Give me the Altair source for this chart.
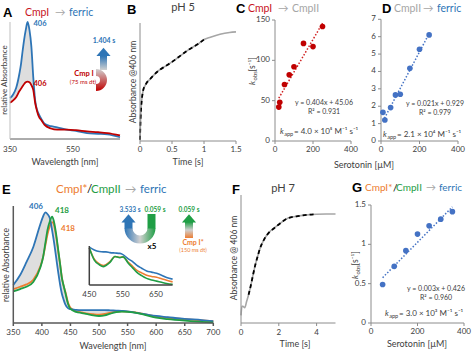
import altair as alt
import pandas as pd

W, H = 474, 351
FONT = "Lato"
TXT = "#404040"
RED = "#c00000"
TRED = "#c8141e"
BLUE = "#2e75b6"
GRAY = "#a6a6a6"
GREEN = "#1f9e45"
ORANGE = "#ed7d31"
PBLUE = "#4472c4"
AX = "#8c8c8c"

# ---------------- data ----------------
# A: spectra CmpI -> ferric (pH 5)
a_wl = [350, 360, 370, 380, 385, 390, 395, 400, 406, 412, 418, 424, 430, 436, 442,
        450, 460, 480, 500, 530, 560, 595, 630, 660, 700]
a_ferric = [0.35, 0.38, 0.44, 0.56, 0.64, 0.75, 0.85, 0.93, 1.00, 0.93, 0.79, 0.53, 0.33, 0.25, 0.21,
            0.17, 0.13, 0.11, 0.10, 0.08, 0.07, 0.05, 0.045, 0.04, 0.015]
a_cmpi = [0.31, 0.33, 0.36, 0.41, 0.43, 0.45, 0.47, 0.485, 0.49, 0.485, 0.46, 0.42, 0.31, 0.24, 0.19,
          0.16, 0.12, 0.09, 0.08, 0.08, 0.075, 0.065, 0.058, 0.05, 0.03]
a_xticks = [350, 550]

# B: kinetics pH 5
b_t = [0, 0.005, 0.01, 0.02, 0.03, 0.05, 0.08, 0.1, 0.15, 0.2, 0.3, 0.4, 0.5, 0.6, 0.75,
       0.9, 1.0, 1.1, 1.25, 1.4, 1.5]
b_abs = [0.01, 0.12, 0.2, 0.3, 0.36, 0.43, 0.47, 0.49, 0.52, 0.55, 0.60, 0.635, 0.67, 0.71, 0.77,
         0.82, 0.86, 0.88, 0.905, 0.92, 0.925]
b_xticks = [0, 0.5, 1, 1.5]

# C: CmpI -> CmpII
c_ser = [20, 25, 50, 75, 100, 150, 200, 250]
c_kobs = [42, 48, 70, 82, 92, 121, 117, 142]
c_slope, c_icpt = 0.404, 45.06
c_yticks = [0, 50, 100, 150]

# D: CmpII -> ferric
d_ser = [10, 20, 50, 75, 100, 150, 200, 250]
d_kobs = [1.65, 1.21, 1.92, 2.65, 2.69, 4.18, 5.28, 6.10]
d_slope, d_icpt = 0.021, 0.929
d_yticks = [0, 1, 2, 3, 4, 5, 6, 7]

ser_xticks = [0, 200, 400]

# E: spectra CmpI*/CmpII -> ferric (pH 7)
e_wl = [350, 362, 373, 385, 397, 402, 406, 410, 414, 418, 421, 425, 429, 432, 435, 438, 441, 446,
        450, 460, 470, 480, 490, 500, 510, 520, 530, 540, 550, 560, 580, 600, 620, 650, 680, 700]
e_ferric = [0.325, 0.41, 0.52, 0.65, 0.84, 0.91, 0.945, 0.93, 0.895, 0.79, 0.70, 0.56, 0.42, 0.325,
            0.25, 0.20, 0.16, 0.125, 0.118, 0.112, 0.11, 0.11, 0.11, 0.11, 0.11, 0.108, 0.106, 0.104,
            0.10, 0.09, 0.075, 0.06, 0.05, 0.035, 0.025, 0.015]
e_cmpii = [0.27, 0.29, 0.31, 0.35, 0.47, 0.56, 0.68, 0.80, 0.87, 0.91, 0.87, 0.76, 0.61, 0.50, 0.385,
           0.32, 0.26, 0.16, 0.12, 0.095, 0.085, 0.075, 0.065, 0.06, 0.065, 0.08, 0.092, 0.097, 0.095,
           0.09, 0.07, 0.045, 0.033, 0.02, 0.01, 0.005]
e_cmpistar = [0.29, 0.31, 0.33, 0.37, 0.48, 0.56, 0.66, 0.76, 0.83, 0.863, 0.84, 0.74, 0.60, 0.50,
              0.39, 0.32, 0.27, 0.17, 0.13, 0.10, 0.09, 0.08, 0.075, 0.072, 0.077, 0.088, 0.098, 0.10,
              0.098, 0.093, 0.075, 0.055, 0.045, 0.033, 0.022, 0.015]
e_xticks = [350, 400, 450, 500, 550, 600, 650, 700]

# E inset (x5)
i_wl = [450, 465, 480, 492, 500, 512, 527, 542, 551, 567, 580, 592, 607, 622, 637, 652, 667, 682, 700]
i_ferric = [0.97, 0.90, 0.86, 0.85, 0.85, 0.83, 0.82, 0.81, 0.78, 0.67, 0.60, 0.51, 0.43, 0.36, 0.33,
            0.30, 0.25, 0.19, 0.15]
i_cmpii = [0.95, 0.64, 0.52, 0.47, 0.50, 0.58, 0.73, 0.70, 0.72, 0.56, 0.44, 0.33, 0.24, 0.17, 0.13,
           0.10, 0.07, 0.04, 0.02]
i_cmpistar = [0.95, 0.66, 0.54, 0.50, 0.52, 0.60, 0.73, 0.71, 0.72, 0.58, 0.48, 0.38, 0.31, 0.25, 0.22,
              0.20, 0.16, 0.12, 0.08]
i_xticks = [450, 550, 650]

# F: kinetics pH 7
f_t = [0, 0.05, 0.1, 0.2, 0.3, 0.4, 0.5, 0.6, 0.75, 0.9, 1.0, 1.25, 1.5, 1.75, 2.0, 2.5, 3.0, 3.5,
       4.0, 4.5, 5.0]
f_abs = [0.06, 0.13, 0.13, 0.12, 0.17, 0.22, 0.28, 0.35, 0.45, 0.53, 0.58, 0.66, 0.71, 0.74, 0.77,
         0.82, 0.835, 0.845, 0.85, 0.852, 0.852]
f_xticks = [0, 2, 4]

# G: CmpI*/CmpII -> ferric
g_ser = [50, 100, 150, 200, 250, 300, 350]
g_kobs = [0.49, 0.72, 0.92, 1.13, 1.235, 1.32, 1.415]
g_slope, g_icpt = 0.003, 0.426
g_yticks = [0, 0.5, 1, 1.5]


# ---------------- helpers ----------------
ONE = pd.DataFrame({"k": [0]})


def scale(domain, r0, r1):
    return alt.Scale(domain=domain, range=[r0, r1], nice=False, zero=False)


def x_axis(values, scl, y0, r0, r1, color=AX, width=1.0, ticks=True, lab_dy=9):
    out = [alt.Chart(ONE).mark_rule(color=color, strokeWidth=width).encode(
        x=alt.value(r0), x2=alt.value(r1), y=alt.value(y0))]
    df = pd.DataFrame({"v": values, "lab": [f"{v:g}" for v in values]})
    if ticks:
        out.append(alt.Chart(df).mark_rule(color=color, strokeWidth=width).encode(
            x=alt.X("v:Q", scale=scl, axis=None), y=alt.value(y0), y2=alt.value(y0 + 3)))
    out.append(alt.Chart(df).mark_text(fontSize=8, color=TXT, font=FONT, baseline="middle").encode(
        x=alt.X("v:Q", scale=scl, axis=None), y=alt.value(y0 + lab_dy), text="lab:N"))
    return out


def y_axis(values, scl, x0, r0, r1, color=AX, width=1.0, ticks=True, labels=True):
    out = [alt.Chart(ONE).mark_rule(color=color, strokeWidth=width).encode(
        x=alt.value(x0), y=alt.value(r0), y2=alt.value(r1))]
    if values:
        df = pd.DataFrame({"v": values, "lab": [f"{v:g}" for v in values]})
        if ticks:
            out.append(alt.Chart(df).mark_rule(color=color, strokeWidth=width).encode(
                y=alt.Y("v:Q", scale=scl, axis=None), x=alt.value(x0 - 3), x2=alt.value(x0)))
        if labels:
            out.append(alt.Chart(df).mark_text(fontSize=8, color=TXT, font=FONT, baseline="middle",
                                               align="right").encode(
                y=alt.Y("v:Q", scale=scl, axis=None), x=alt.value(x0 - 5), text="lab:N"))
    return out


def T(text, x, y, color=TXT, size=8, bold=False, italic=False, align="center", angle=None,
      baseline="middle", font=FONT):
    kw = dict(text=text, color=color, fontSize=size, align=align, baseline=baseline, font=font)
    if bold:
        kw["fontWeight"] = "bold"
    if italic:
        kw["fontStyle"] = "italic"
    if angle is not None:
        kw["angle"] = angle
    return alt.Chart(ONE).mark_text(**kw).encode(x=alt.value(x), y=alt.value(y))


def grad(stops, x1=0, y1=0, x2=0, y2=1):
    return alt.Gradient(gradient="linear", x1=x1, y1=y1, x2=x2, y2=y2,
                        stops=[alt.GradientStop(offset=o, color=c) for o, c in stops])


def box(x0, x1, y0, y1, fill):
    return alt.Chart(ONE).mark_rect(fill=fill).encode(
        x=alt.value(x0), x2=alt.value(x1), y=alt.value(y0), y2=alt.value(y1))


def head(x, y, color, size=200):
    return alt.Chart(ONE).mark_point(shape="M-1,0.55L0,-0.6L1,0.55Z", filled=True, fill=color,
                                     size=size, opacity=1, strokeWidth=0).encode(
        x=alt.value(x), y=alt.value(y))


def arc(cx, cy, r, r2, t0, t1, fill):
    return alt.Chart(ONE).mark_arc(fill=fill).encode(
        x=alt.value(cx), y=alt.value(cy), theta=alt.value(t0), theta2=alt.value(t1),
        radius=alt.value(r), radius2=alt.value(r2))


def kobs_title(x, yc, size=8.5):
    y0 = yc + 15
    return [T("k", x, y0, size=size, italic=True, align="left", angle=270),
            T("obs", x + 2.5, y0 - 4.6, size=size * 0.7, align="left", angle=270),
            T(" [s⁻¹]", x, y0 - 13.6, size=size, align="left", angle=270)]


def kapp(x, y, rest, size=8):
    return [T("k", x, y, size=size, italic=True, align="left"),
            T("app", x + 4.2, y + 2, size=size * 0.7, align="left"),
            T(rest, x + 14, y, size=size, align="left")]


def title_parts(y, parts, size):
    return [T(s, x, y, color=c, size=size, align="left") for s, x, c in parts]


def letter(s, x, y):
    return T(s, x, y, color="#000000", size=13, bold=True, align="left", font="Liberation Sans")


def line(df, field, xf, xs_, ys_, color, width=1.8, **kw):
    return alt.Chart(df).mark_line(color=color, strokeWidth=width, interpolate="monotone", **kw).encode(
        x=alt.X(f"{xf}:Q", scale=xs_, axis=None), y=alt.Y(f"{field}:Q", scale=ys_, axis=None))


# ---------------- panel A ----------------
dfA = pd.DataFrame({"wl": a_wl, "ferric": a_ferric, "cmpi": a_cmpi})
xA, yA = scale([350, 700], 10, 120), scale([0, 1], 139, 22)
panelA = alt.layer(
    alt.Chart(dfA).mark_area(color="#dedede", interpolate="monotone").encode(
        x=alt.X("wl:Q", scale=xA, axis=None),
        y=alt.Y("cmpi:Q", scale=yA, axis=None), y2="ferric:Q"),
    line(dfA, "ferric", "wl", xA, yA, BLUE),
    line(dfA, "cmpi", "wl", xA, yA, RED),
    *x_axis(a_xticks, xA, 139, 10, 120, color="#595959", ticks=False, lab_dy=11),
    *y_axis([], yA, 10, 139, 22, color="#bfbfbf"),
)

# ---------------- panel B ----------------
dfB = pd.DataFrame({"t": b_t, "abs": b_abs})
xB, yB = scale([0, 1.5], 140, 236), scale([0, 1], 141, 23)
panelB = alt.layer(
    line(dfB, "abs", "t", xB, yB, GRAY, 1.6),
    alt.Chart(dfB).transform_filter("datum.t <= 1.0").mark_line(
        color="#000000", strokeWidth=1.8, strokeDash=[4, 3], interpolate="monotone").encode(
        x=alt.X("t:Q", scale=xB, axis=None), y=alt.Y("abs:Q", scale=yB, axis=None)),
    *x_axis(b_xticks, xB, 141, 140, 236),
    *y_axis([], yB, 140, 141, 23),
)


# ---------------- scatter panels ----------------
def scatter_panel(ser, kobs, slope, icpt, xr, ytop, ydom, yvals, ypix, color, lcolor):
    df = pd.DataFrame({"ser": ser, "kobs": kobs})
    fit_x = [ser[0], ser[-1]]
    dff = pd.DataFrame({"ser": fit_x, "kobs": [slope * v + icpt for v in fit_x]})
    xs_, ys_ = scale([0, 400], xr[0], xr[1]), scale(ydom, ypix, ytop)
    return alt.layer(
        *x_axis(ser_xticks, xs_, ypix, xr[0], xr[1]),
        *y_axis(yvals, ys_, xr[0], ypix, ytop),
        alt.Chart(dff).mark_line(color=lcolor, strokeWidth=1.5, strokeDash=[1.5, 1.8]).encode(
            x=alt.X("ser:Q", scale=xs_, axis=None), y=alt.Y("kobs:Q", scale=ys_, axis=None)),
        alt.Chart(df).mark_circle(color=color, size=32, opacity=1).encode(
            x=alt.X("ser:Q", scale=xs_, axis=None), y=alt.Y("kobs:Q", scale=ys_, axis=None)),
    )


panelC = scatter_panel(c_ser, c_kobs, c_slope, c_icpt, (275, 351), 20, [0, 150],
                       c_yticks, 141, RED, "#d02020")
panelD = scatter_panel(d_ser, d_kobs, d_slope, d_icpt, (381, 458), 19.3, [0, 7],
                       d_yticks, 141, PBLUE, PBLUE)
panelG = scatter_panel(g_ser, g_kobs, g_slope, g_icpt, (371, 464), 205, [0, 1.5],
                       g_yticks, 323, PBLUE, PBLUE)

# ---------------- panel E ----------------
dfE = pd.DataFrame({"wl": e_wl, "ferric": e_ferric, "cmpii": e_cmpii, "cmpistar": e_cmpistar})
xE, yE = scale([350, 700], 13.3, 213.3), scale([0, 1], 323, 206)
EAX = "#595959"
panelE = alt.layer(
    alt.Chart(dfE).mark_area(color="#dedede", interpolate="monotone").encode(
        x=alt.X("wl:Q", scale=xE, axis=None),
        y=alt.Y("cmpii:Q", scale=yE, axis=None), y2="ferric:Q"),
    line(dfE, "cmpistar", "wl", xE, yE, ORANGE),
    line(dfE, "ferric", "wl", xE, yE, BLUE),
    line(dfE, "cmpii", "wl", xE, yE, GREEN),
    *x_axis(e_xticks, xE, 323, 13.3, 213.3, color=EAX, width=1.5, lab_dy=10),
    *y_axis([], yE, 13.3, 323, 206, color=EAX, width=1.5),
)

dfI = pd.DataFrame({"wl": i_wl, "ferric": i_ferric, "cmpii": i_cmpii, "cmpistar": i_cmpistar})
xI, yI = scale([450, 700], 89.3, 172.6), scale([0, 1], 285, 246)
panelI = alt.layer(
    line(dfI, "cmpistar", "wl", xI, yI, ORANGE, 1.6),
    line(dfI, "ferric", "wl", xI, yI, BLUE, 1.6),
    line(dfI, "cmpii", "wl", xI, yI, GREEN, 1.6),
    *x_axis(i_xticks, xI, 285, 89.3, 172.6, color="#404040", width=1.5, ticks=False, lab_dy=10),
    *y_axis([], yI, 89.3, 285, 246, color="#404040", width=1.5),
)

# ---------------- panel F ----------------
dfF = pd.DataFrame({"t": f_t, "abs": f_abs})
xF, yF = scale([0, 5], 241, 335.5), scale([0, 1], 323, 195)
panelF = alt.layer(
    line(dfF, "abs", "t", xF, yF, GRAY, 1.6),
    alt.Chart(dfF).transform_filter("datum.t >= 0.4 && datum.t <= 4.0").mark_line(
        color="#000000", strokeWidth=1.8, strokeDash=[4, 3], interpolate="monotone").encode(
        x=alt.X("t:Q", scale=xF, axis=None), y=alt.Y("abs:Q", scale=yF, axis=None)),
    *x_axis(f_xticks, xF, 323, 241, 335.5, lab_dy=10),
    *y_axis([], yF, 241, 323, 195),
)

# ---------------- annotations ----------------
PI = 3.14159265
ann = []
# titles
ann += [letter("A", 3, 13)]
ann += title_parts(13, [("CmpI", 25, TRED), ("→", 55, GRAY), ("ferric", 69, BLUE)], 10.5)
ann += [letter("B", 127, 10), T("pH 5", 183, 8, color=TXT, size=11)]
ann += [letter("C", 236, 9)]
ann += title_parts(8.5, [("CmpI", 248, TRED), ("→", 278, GRAY), ("CmpII", 292, GRAY)], 10.5)
ann += [letter("D", 382, 9)]
ann += title_parts(9, [("CmpII", 394, GRAY), ("→", 423, GRAY), ("ferric", 437, BLUE)], 10.5)
ann += [letter("E", 2, 190)]
ann += title_parts(190, [("CmpI*", 56, ORANGE), ("/", 87, "#000000"), ("CmpII", 91, GREEN),
                         ("→", 125, GRAY), ("ferric", 140, BLUE)], 11.5)
ann += [letter("F", 232, 190), T("pH 7", 283, 189, color=TXT, size=11)]
ann += [letter("G", 352, 188)]
ann += title_parts(188, [("CmpI*", 365, ORANGE), ("/", 393, "#000000"), ("CmpII", 396, GREEN),
                         ("→", 426, GRAY), ("ferric", 439, BLUE)], 10)

# axis titles
ann += [T("relative Absorbance", 5, 80, size=8, angle=270),
        T("Wavelength [nm]", 65, 162, size=9),
        T("Absorbance @406 nm", 133, 82, size=8.5, angle=270),
        T("Time [s]", 188, 162, size=9),
        T("Serotonin [µM]", 364, 165, size=9),
        T("relative Absorbance", 6, 265, size=8.5, angle=270),
        T("Wavelength [nm]", 113, 346, size=9),
        T("Absorbance @ 406 nm", 234, 258, size=8.5, angle=270),
        T("Time [s]", 295, 344, size=9),
        T("Serotonin [µM]", 417, 344, size=9)]
ann += kobs_title(252, 70)
ann += kobs_title(355, 264)

# regression texts
ann += [T("y = 0.404x + 45.06", 324, 103, size=7), T("R² = 0.931", 324, 111.5, size=7)]
ann += [T("y = 0.021x + 0.929", 435, 104, size=7), T("R² = 0.979", 435, 112.5, size=7)]
ann += [T("y = 0.003x + 0.426", 436, 289, size=7), T("R² = 0.960", 436, 297.5, size=7)]
ann += kapp(280, 132, "= 4.0 × 10⁵ M⁻¹ s⁻¹")
ann += kapp(383, 135, "= 2.1 × 10⁴ M⁻¹ s⁻¹")
ann += kapp(385, 314, "= 3.0 × 10³ M⁻¹ s⁻¹")

# peak labels
ann += [T("406", 40, 24, color=BLUE, size=7.5, bold=True),
        T("406", 40, 84, color=RED, size=7.5, bold=True),
        T("406", 36, 207, color=BLUE, size=8, bold=True),
        T("418", 62, 211, color=GREEN, size=8, bold=True),
        T("418", 68, 229, color=ORANGE, size=8, bold=True),
        T("x5", 152, 247, color="#000000", size=8, bold=True)]

# arrow in A
ann += [box(100, 107, 56, 70, grad([(0, BLUE), (1, "#d0d0d0")])),
        arc(96, 80, 11, 4, 0, PI, grad([(0, "#d0d0d0"), (1, RED)])),
        head(103.5, 52, BLUE, 200),
        T("1.404 s", 104, 41, color=BLUE, size=7, bold=True),
        T("Cmp I", 84, 74, color=RED, size=7.5, bold=True),
        T("(75 ms dt)", 83, 82, color=RED, size=6)]

# arrows in E
ann += [arc(140, 228, 15.5, 7.5, PI / 2, 3 * PI / 2,
            grad([(0, BLUE), (0.5, "#d0d0d0"), (1, GREEN)], x1=0, y1=0, x2=1, y2=0)),
        box(124.5, 132.5, 222, 228.5, BLUE),
        box(147.5, 155.5, 214, 228.5, GREEN),
        head(128.5, 218.5, BLUE, 200),
        T("3.533 s", 130, 210, color=BLUE, size=6.5, bold=True),
        T("0.059 s", 155, 210, color=GREEN, size=6.5, bold=True),
        box(185, 193, 222, 238, grad([(0, GREEN), (0.5, "#d0d0d0"), (1, ORANGE)])),
        head(189, 218.5, GREEN, 200),
        T("0.059 s", 189, 210, color=GREEN, size=6.5, bold=True),
        T("Cmp I*", 193, 243, color=ORANGE, size=7, bold=True),
        T("(150 ms dt)", 193, 250, color=ORANGE, size=5.5)]

chart = alt.layer(panelA, panelB, panelC, panelD, panelE, panelI, panelF, panelG, *ann).resolve_scale(
    x="independent", y="independent"
).properties(
    width=W, height=H, padding=0, autosize=alt.AutoSizeParams(type="none")
).configure_view(stroke=None)

chart.save("out.html", embed_options={"renderer": "svg", "actions": False})
